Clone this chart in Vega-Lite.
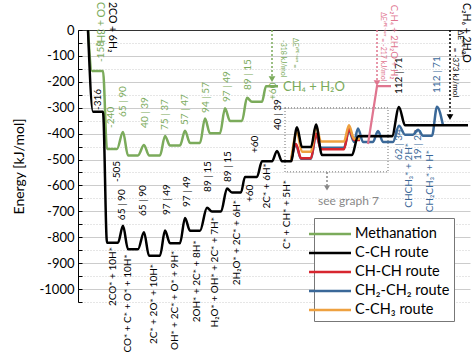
{
  "$schema": "https://vega.github.io/schema/vega-lite/v6.json",
  "width": 392,
  "height": 272,
  "autosize": {"type": "none"},
  "padding": {"left": 78, "top": 30, "right": 4, "bottom": 53},
  "config": {"view": {"stroke": null}, "font": "Lato"},
  "datasets": {
    "lines": [
      {"s": "Methanation", "x": 88, "e": 0}, {"s": "Methanation", "x": 92, "e": -158}, {"s": "Methanation", "x": 103, "e": -158},
      {"s": "Methanation", "x": 107, "e": -459}, {"s": "Methanation", "x": 117, "e": -459}, {"s": "Methanation", "x": 123, "e": -394},
      {"s": "Methanation", "x": 128, "e": -484}, {"s": "Methanation", "x": 138, "e": -484}, {"s": "Methanation", "x": 144, "e": -444},
      {"s": "Methanation", "x": 149, "e": -484}, {"s": "Methanation", "x": 160, "e": -484}, {"s": "Methanation", "x": 165, "e": -409},
      {"s": "Methanation", "x": 170, "e": -446}, {"s": "Methanation", "x": 180, "e": -446}, {"s": "Methanation", "x": 185, "e": -389},
      {"s": "Methanation", "x": 190, "e": -436}, {"s": "Methanation", "x": 200, "e": -436}, {"s": "Methanation", "x": 205, "e": -342},
      {"s": "Methanation", "x": 210, "e": -399}, {"s": "Methanation", "x": 220, "e": -399}, {"s": "Methanation", "x": 225, "e": -302},
      {"s": "Methanation", "x": 230, "e": -351}, {"s": "Methanation", "x": 242, "e": -351}, {"s": "Methanation", "x": 247, "e": -262},
      {"s": "Methanation", "x": 252, "e": -277}, {"s": "Methanation", "x": 262, "e": -277}, {"s": "Methanation", "x": 266, "e": -217},
      {"s": "Methanation", "x": 278, "e": -217},

      {"s": "C-CH route", "x": 88, "e": 0}, {"s": "C-CH route", "x": 93, "e": -316}, {"s": "C-CH route", "x": 103, "e": -316},
      {"s": "C-CH route", "x": 107, "e": -821}, {"s": "C-CH route", "x": 118, "e": -821}, {"s": "C-CH route", "x": 123, "e": -756},
      {"s": "C-CH route", "x": 128, "e": -846}, {"s": "C-CH route", "x": 138, "e": -846}, {"s": "C-CH route", "x": 144, "e": -781},
      {"s": "C-CH route", "x": 149, "e": -871}, {"s": "C-CH route", "x": 160, "e": -871}, {"s": "C-CH route", "x": 165, "e": -774},
      {"s": "C-CH route", "x": 170, "e": -823}, {"s": "C-CH route", "x": 180, "e": -823}, {"s": "C-CH route", "x": 185, "e": -726},
      {"s": "C-CH route", "x": 190, "e": -775}, {"s": "C-CH route", "x": 200, "e": -775}, {"s": "C-CH route", "x": 207, "e": -686},
      {"s": "C-CH route", "x": 212, "e": -701}, {"s": "C-CH route", "x": 221, "e": -701}, {"s": "C-CH route", "x": 227, "e": -612},
      {"s": "C-CH route", "x": 232, "e": -627}, {"s": "C-CH route", "x": 241, "e": -627}, {"s": "C-CH route", "x": 245, "e": -567},
      {"s": "C-CH route", "x": 257, "e": -567}, {"s": "C-CH route", "x": 262, "e": -507}, {"s": "C-CH route", "x": 272, "e": -507},
      {"s": "C-CH route", "x": 277, "e": -467}, {"s": "C-CH route", "x": 282, "e": -507}, {"s": "C-CH route", "x": 291, "e": -507},
      {"s": "C-CH route", "x": 297, "e": -375}, {"s": "C-CH route", "x": 302, "e": -452}, {"s": "C-CH route", "x": 311, "e": -452},
      {"s": "C-CH route", "x": 316, "e": -365}, {"s": "C-CH route", "x": 322, "e": -483}, {"s": "C-CH route", "x": 352, "e": -483},
      {"s": "C-CH route", "x": 358, "e": -410}, {"s": "C-CH route", "x": 392, "e": -410}, {"s": "C-CH route", "x": 399, "e": -297},
      {"s": "C-CH route", "x": 405, "e": -368}, {"s": "C-CH route", "x": 468, "e": -368},

      {"s": "CH-CH route", "x": 291, "e": -507}, {"s": "CH-CH route", "x": 296, "e": -440}, {"s": "CH-CH route", "x": 301, "e": -495},
      {"s": "CH-CH route", "x": 311, "e": -495}, {"s": "CH-CH route", "x": 316, "e": -400}, {"s": "CH-CH route", "x": 321, "e": -460},
      {"s": "CH-CH route", "x": 344, "e": -460}, {"s": "CH-CH route", "x": 349, "e": -380}, {"s": "CH-CH route", "x": 354, "e": -425},
      {"s": "CH-CH route", "x": 360, "e": -425},

      {"s": "C-CH₃ route", "x": 291, "e": -507}, {"s": "C-CH₃ route", "x": 297, "e": -395}, {"s": "C-CH₃ route", "x": 302, "e": -470},
      {"s": "C-CH₃ route", "x": 311, "e": -470}, {"s": "C-CH₃ route", "x": 316, "e": -372}, {"s": "C-CH₃ route", "x": 321, "e": -430},
      {"s": "C-CH₃ route", "x": 344, "e": -430}, {"s": "C-CH₃ route", "x": 349, "e": -368}, {"s": "C-CH₃ route", "x": 354, "e": -420},
      {"s": "C-CH₃ route", "x": 360, "e": -420},

      {"s": "CH₂-CH₂ route", "x": 291, "e": -507}, {"s": "CH₂-CH₂ route", "x": 296, "e": -445}, {"s": "CH₂-CH₂ route", "x": 301, "e": -497},
      {"s": "CH₂-CH₂ route", "x": 311, "e": -497}, {"s": "CH₂-CH₂ route", "x": 316, "e": -405}, {"s": "CH₂-CH₂ route", "x": 321, "e": -455},
      {"s": "CH₂-CH₂ route", "x": 344, "e": -455}, {"s": "CH₂-CH₂ route", "x": 349, "e": -388}, {"s": "CH₂-CH₂ route", "x": 354, "e": -432},
      {"s": "CH₂-CH₂ route", "x": 358, "e": -380}, {"s": "CH₂-CH₂ route", "x": 363, "e": -432}, {"s": "CH₂-CH₂ route", "x": 373, "e": -432},
      {"s": "CH₂-CH₂ route", "x": 378, "e": -390}, {"s": "CH₂-CH₂ route", "x": 383, "e": -432}, {"s": "CH₂-CH₂ route", "x": 393, "e": -432},
      {"s": "CH₂-CH₂ route", "x": 399, "e": -370}, {"s": "CH₂-CH₂ route", "x": 405, "e": -404}, {"s": "CH₂-CH₂ route", "x": 413, "e": -404},
      {"s": "CH₂-CH₂ route", "x": 418, "e": -385}, {"s": "CH₂-CH₂ route", "x": 423, "e": -408}, {"s": "CH₂-CH₂ route", "x": 432, "e": -408},
      {"s": "CH₂-CH₂ route", "x": 437, "e": -296}, {"s": "CH₂-CH₂ route", "x": 443, "e": -368},

      {"s": "C2H4", "x": 368, "e": -440}, {"s": "C2H4", "x": 377, "e": -217}, {"s": "C2H4", "x": 391, "e": -217}
    ],
    "labels": [
      {"g": "sp", "t": "2CO* + 10H*", "x": 113, "e": -838},
      {"g": "sp", "t": "CO* + C* + O* + 10H*", "x": 128, "e": -866},
      {"g": "sp", "t": "2C* + 2O* + 10H*", "x": 154, "e": -903},
      {"g": "sp", "t": "OH* + 2C* + O* + 9H*", "x": 175, "e": -852},
      {"g": "sp", "t": "2OH* + 2C* + 8H*", "x": 197, "e": -812},
      {"g": "sp", "t": "H₂O* + OH* + 2C* + 7H*", "x": 215, "e": -722},
      {"g": "sp", "t": "2H₂O* + 2C* + 6H*", "x": 237, "e": -656},
      {"g": "sp", "t": "2C* + 6H*", "x": 267, "e": -514},
      {"g": "sp", "t": "C* + CH* + 5H*", "x": 287, "e": -579},
      {"g": "bb", "t": "-316", "x": 98, "e": -309},
      {"g": "bb", "t": "-505", "x": 117, "e": -587},
      {"g": "bb", "t": "65 | 90", "x": 122, "e": -734},
      {"g": "bb", "t": "65 | 90", "x": 143, "e": -718},
      {"g": "bb", "t": "97 | 49", "x": 167, "e": -714},
      {"g": "bb", "t": "97 | 49", "x": 187, "e": -683},
      {"g": "bb", "t": "89 | 15", "x": 208, "e": -625},
      {"g": "bb", "t": "89 | 15", "x": 228, "e": -587},
      {"g": "bb", "t": "+60", "x": 250, "e": -664},
      {"g": "bb", "t": "+60", "x": 255, "e": -475},
      {"g": "bb", "t": "40 | 39", "x": 278, "e": -386},
      {"g": "bb", "t": "112 | 71", "x": 399, "e": -247},
      {"g": "bg", "t": "-158", "x": 101, "e": -124},
      {"g": "bg", "t": "-240", "x": 111, "e": -378},
      {"g": "bg", "t": "65 | 90", "x": 123, "e": -336},
      {"g": "bg", "t": "40 | 39", "x": 145, "e": -378},
      {"g": "bg", "t": "75 | 37", "x": 165, "e": -386},
      {"g": "bg", "t": "57 | 47", "x": 185, "e": -367},
      {"g": "bg", "t": "94 | 57", "x": 206, "e": -320},
      {"g": "bg", "t": "97 | 49", "x": 227, "e": -278},
      {"g": "bg", "t": "89 | 15", "x": 248, "e": -232},
      {"g": "bg", "t": "+60", "x": 273, "e": -270},
      {"g": "bbl", "t": "62 | 34", "x": 399, "e": -502},
      {"g": "bbl", "t": "19 | 23", "x": 418, "e": -502},
      {"g": "bbl", "t": "112 | 71", "x": 437, "e": -243},
      {"g": "sb", "t": "CHCH₃* + 2H*", "x": 409, "e": -436},
      {"g": "sb", "t": "CH₂CH₃* + H*", "x": 430, "e": -463},
      {"g": "tb", "t": "2CO + 6H₂", "x": 112, "e": 108},
      {"g": "tb", "t": "C₂H₆ + 2H₂O", "x": 466, "e": 104},
      {"g": "tg", "t": "CO + 3H₂", "x": 100, "e": 108},
      {"g": "tp", "t": "C₂H₄ + 2H₂O + H₂", "x": 394, "e": 97},
      {"g": "dp", "t": "ΔEᶻᴾᴱ⁻ᶜᵒʳʳ = -217 kJ/mol", "x": 383, "e": 69},
      {"g": "db", "t": "ΔEᶻᴾᴱ⁻ᶜᵒʳʳ", "x": 460, "e": 0},
      {"g": "db", "t": "= -373 kJ/mol", "x": 455, "e": -69},
      {"g": "dg", "t": "ΔEᶻᴾᴱ⁻ᶜᵒʳʳ =", "x": 295, "e": -31},
      {"g": "dg", "t": "-318 kJ/mol", "x": 283, "e": -39},
      {"g": "hg", "t": "CH₄ + H₂O", "x": 283, "e": -219},
      {"g": "hgray", "t": "see graph 7", "x": 318, "e": -660}
    ],
    "arrows": [
      {"k": "g", "x": 272, "e": 0, "e2": -190},
      {"k": "p", "x": 377, "e": 0, "e2": -205},
      {"k": "b", "x": 450, "e": 0, "e2": -336},
      {"k": "gray", "x": 327, "e": -548, "e2": -610}
    ],
    "box": [{"x": 285, "x2": 388, "e": -301, "e2": -548}]
  },
  "encoding": {
    "x": {"field": "x", "type": "quantitative", "scale": {"domain": [78, 470], "nice": false, "zero": false}, "axis": null},
    "y": {
      "field": "e", "type": "quantitative",
      "scale": {"domain": [-1050, 0], "nice": false, "zero": false},
      "axis": {
        "title": "Energy [kJ/mol]",
        "values": [0, -50, -100, -150, -200, -250, -300, -350, -400, -450, -500, -550, -600, -650, -700, -750, -800, -850, -900, -950, -1000, -1050],
        "labelExpr": "datum.value % 100 === 0 ? '' + datum.value : ''",
        "domainColor": "#000",
        "tickColor": "#000",
        "tickSize": -4,
        "labelPadding": 8,
        "labelFontSize": 13,
        "labelColor": "#000",
        "labelFont": "Lato",
        "titleFont": "Lato",
        "titleFontSize": 14,
        "titleFontWeight": "normal",
        "titleColor": "#000",
        "titlePadding": 13,
        "grid": true,
        "gridColor": {"condition": {"test": "datum.value === 0", "value": "#333333"}, "value": "#cccccc"},
        "gridDash": {"condition": {"test": "datum.value % 100 !== 0", "value": [1, 2]}, "value": []}
      }
    }
  },
  "layer": [
    {"data": {"name": "box"}, "mark": {"type": "rect", "fill": null, "stroke": "#888", "strokeDash": [1, 2], "strokeWidth": 1.2},
     "encoding": {"x2": {"field": "x2"}, "y2": {"field": "e2"}}},
    {"data": {"name": "lines"}, "transform": [{"filter": "datum.s === 'Methanation'"}],
     "mark": {"type": "line", "interpolate": "monotone", "strokeWidth": 2.5},
     "encoding": {"color": {"field": "s", "type": "nominal",
       "scale": {"domain": ["Methanation", "C-CH route", "CH-CH route", "CH₂-CH₂ route", "C-CH₃ route"], "range": ["#7bab5b", "#000000", "#d7262f", "#3a6898", "#eea140"]},
       "legend": {"title": null, "orient": "none", "legendX": 236, "legendY": 188, "strokeColor": "#777", "fillColor": "#fff", "padding": 4,
         "symbolType": "M-2,0H2", "symbolSize": 441, "symbolStrokeWidth": 2.5, "labelFontSize": 14.5, "labelFont": "Lato", "labelColor": "#000", "labelOffset": 13, "rowPadding": 0}}}},
    {"data": {"name": "lines"}, "transform": [{"filter": "datum.s === 'CH₂-CH₂ route'"}],
     "mark": {"type": "line", "interpolate": "monotone", "strokeWidth": 2.5},
     "encoding": {"color": {"field": "s", "type": "nominal"}}},
    {"data": {"name": "lines"}, "transform": [{"filter": "datum.s === 'CH-CH route'"}],
     "mark": {"type": "line", "interpolate": "monotone", "strokeWidth": 2.5},
     "encoding": {"color": {"field": "s", "type": "nominal"}}},
    {"data": {"name": "lines"}, "transform": [{"filter": "datum.s === 'C-CH₃ route'"}],
     "mark": {"type": "line", "interpolate": "monotone", "strokeWidth": 2.5},
     "encoding": {"color": {"field": "s", "type": "nominal"}}},
    {"data": {"name": "lines"}, "transform": [{"filter": "datum.s === 'C-CH route'"}],
     "mark": {"type": "line", "interpolate": "monotone", "strokeWidth": 2.5},
     "encoding": {"color": {"field": "s", "type": "nominal"}}},
    {"data": {"name": "lines"}, "transform": [{"filter": "datum.s === 'C2H4'"}],
     "mark": {"type": "line", "strokeWidth": 2.2, "color": "#e0758f"}, "encoding": {}},
    {"data": {"name": "arrows"}, "transform": [{"filter": "datum.k === 'g'"}],
     "mark": {"type": "rule", "color": "#7bab5b", "strokeDash": [2, 2], "strokeWidth": 1.5}, "encoding": {"y2": {"field": "e2"}}},
    {"data": {"name": "arrows"}, "transform": [{"filter": "datum.k === 'p'"}],
     "mark": {"type": "rule", "color": "#e0758f", "strokeDash": [2, 2], "strokeWidth": 1.5}, "encoding": {"y2": {"field": "e2"}}},
    {"data": {"name": "arrows"}, "transform": [{"filter": "datum.k === 'b'"}],
     "mark": {"type": "rule", "color": "#000", "strokeDash": [2, 2], "strokeWidth": 1.5}, "encoding": {"y2": {"field": "e2"}}},
    {"data": {"name": "arrows"}, "transform": [{"filter": "datum.k === 'gray'"}],
     "mark": {"type": "rule", "color": "#888", "strokeDash": [2, 2], "strokeWidth": 1.5}, "encoding": {"y2": {"field": "e2"}}},
    {"data": {"name": "arrows"}, "transform": [{"filter": "datum.k === 'g'"}],
     "mark": {"type": "point", "shape": "triangle-down", "filled": true, "size": 45, "color": "#7bab5b", "opacity": 1},
     "encoding": {"y": {"field": "e2", "type": "quantitative"}}},
    {"data": {"name": "arrows"}, "transform": [{"filter": "datum.k === 'p'"}],
     "mark": {"type": "point", "shape": "triangle-down", "filled": true, "size": 45, "color": "#e0758f", "opacity": 1},
     "encoding": {"y": {"field": "e2", "type": "quantitative"}}},
    {"data": {"name": "arrows"}, "transform": [{"filter": "datum.k === 'b'"}],
     "mark": {"type": "point", "shape": "triangle-down", "filled": true, "size": 45, "color": "#000", "opacity": 1},
     "encoding": {"y": {"field": "e2", "type": "quantitative"}}},
    {"data": {"name": "arrows"}, "transform": [{"filter": "datum.k === 'gray'"}],
     "mark": {"type": "point", "shape": "triangle-down", "filled": true, "size": 35, "color": "#888", "opacity": 1},
     "encoding": {"y": {"field": "e2", "type": "quantitative"}}},
    {"data": {"name": "labels"}, "transform": [{"filter": "datum.g === 'sp'"}],
     "mark": {"type": "text", "angle": 270, "align": "right", "baseline": "middle", "fontSize": 10, "font": "Lato", "color": "#000"},
     "encoding": {"text": {"field": "t"}}},
    {"data": {"name": "labels"}, "transform": [{"filter": "datum.g === 'bb'"}],
     "mark": {"type": "text", "angle": 270, "align": "left", "baseline": "middle", "fontSize": 10, "font": "Lato", "color": "#000"},
     "encoding": {"text": {"field": "t"}}},
    {"data": {"name": "labels"}, "transform": [{"filter": "datum.g === 'bg'"}],
     "mark": {"type": "text", "angle": 270, "align": "left", "baseline": "middle", "fontSize": 10, "font": "Lato", "color": "#7bab5b"},
     "encoding": {"text": {"field": "t"}}},
    {"data": {"name": "labels"}, "transform": [{"filter": "datum.g === 'bbl'"}],
     "mark": {"type": "text", "angle": 270, "align": "left", "baseline": "middle", "fontSize": 10, "font": "Lato", "color": "#3a6898"},
     "encoding": {"text": {"field": "t"}}},
    {"data": {"name": "labels"}, "transform": [{"filter": "datum.g === 'sb'"}],
     "mark": {"type": "text", "angle": 270, "align": "right", "baseline": "middle", "fontSize": 10, "font": "Lato", "color": "#3a6898"},
     "encoding": {"text": {"field": "t"}}},
    {"data": {"name": "labels"}, "transform": [{"filter": "datum.g === 'tb'"}],
     "mark": {"type": "text", "angle": 90, "align": "left", "baseline": "middle", "fontSize": 10.5, "font": "Lato", "color": "#000"},
     "encoding": {"text": {"field": "t"}}},
    {"data": {"name": "labels"}, "transform": [{"filter": "datum.g === 'tg'"}],
     "mark": {"type": "text", "angle": 90, "align": "left", "baseline": "middle", "fontSize": 10.5, "font": "Lato", "color": "#7bab5b"},
     "encoding": {"text": {"field": "t"}}},
    {"data": {"name": "labels"}, "transform": [{"filter": "datum.g === 'tp'"}],
     "mark": {"type": "text", "angle": 90, "align": "left", "baseline": "middle", "fontSize": 9.5, "font": "Lato", "color": "#e0758f"},
     "encoding": {"text": {"field": "t"}}},
    {"data": {"name": "labels"}, "transform": [{"filter": "datum.g === 'dp'"}],
     "mark": {"type": "text", "angle": 90, "align": "left", "baseline": "middle", "fontSize": 7, "font": "Lato", "color": "#e0758f"},
     "encoding": {"text": {"field": "t"}}},
    {"data": {"name": "labels"}, "transform": [{"filter": "datum.g === 'db'"}],
     "mark": {"type": "text", "angle": 90, "align": "left", "baseline": "middle", "fontSize": 8, "font": "Lato", "color": "#000"},
     "encoding": {"text": {"field": "t"}}},
    {"data": {"name": "labels"}, "transform": [{"filter": "datum.g === 'dg'"}],
     "mark": {"type": "text", "angle": 90, "align": "left", "baseline": "middle", "fontSize": 7, "font": "Lato", "color": "#7bab5b"},
     "encoding": {"text": {"field": "t"}}},
    {"data": {"name": "labels"}, "transform": [{"filter": "datum.g === 'hg'"}],
     "mark": {"type": "text", "align": "left", "baseline": "middle", "fontSize": 13, "font": "Lato", "color": "#7bab5b"},
     "encoding": {"text": {"field": "t"}}},
    {"data": {"name": "labels"}, "transform": [{"filter": "datum.g === 'hgray'"}],
     "mark": {"type": "text", "align": "left", "baseline": "middle", "fontSize": 12, "font": "Lato", "color": "#888"},
     "encoding": {"text": {"field": "t"}}}
  ]
}
